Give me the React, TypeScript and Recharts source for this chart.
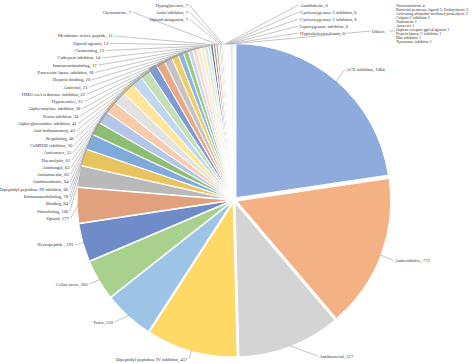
import React from "react";
import { PieChart, Pie, Cell } from "recharts";

// clockwise from 12 o'clock
const categories = [
  "ACE inhibitor",
  "Antioxidative",
  "Antibacterial",
  "Dipeptidyl peptidase IV inhibitor",
  "Toxic",
  "Celiac toxic",
  "Neuropeptide ",
  "Opioid",
  "Stimulating",
  "Binding",
  "Immunomodulating",
  "Dipeptidyl peptidase III inhibitor",
  "Antithrombotic",
  "Antiamnestic",
  "Antifungal",
  "Haemolytic",
  "Anticancer",
  "CaMPDE inhibitor",
  "Regulating",
  "Anti-inflammatory",
  "Alpha-glucosidase inhibitor",
  "Renin inhibitor",
  "Alpha-amylase inhibitor",
  "Hypotensive",
  "HMG-coA reductase inhibitor",
  "Antiviral",
  "Heparin binding",
  "Pancreatic lipase inhibitor",
  "Immunostimulating",
  "Cathepsin inhibitor",
  "Contracting",
  "Opioid agonist",
  "Membrane-active peptide",
  "Chemotactic",
  "Opioid antagonist",
  "Actin inhibitor",
  "Hypoglycemic",
  "Antidiabetic",
  "Cyclooxygenase-2 inhibitor",
  "Cyclooxygenase-1 inhibitor",
  "Lipoxygenase inhibitor",
  "Hypocholesterolemic",
];

const values = [
  1084, 772, 517, 457, 250, 203, 191, 177, 106, 84, 78, 66, 64, 63, 63, 61, 55,
  50, 46, 43, 41, 34, 28, 25, 22, 21, 20, 18, 17, 14, 13, 13, 11, 7, 7, 7, 7, 6,
  6, 6, 6, 5,
];

const othersLines = [
  "Vasoconstrictor 4",
  "Bacterial permease ligand 3; Embryotoxic 3",
  "Activating ubiquitin-mediated proteolysis 3",
  "Calpain 2 inhibitor 2",
  "Natriuretic 1",
  "Anorexic 1",
  "Orphan receptor gpr54 agonist 1",
  "Protein kinase C inhibitor 1",
  "Rho inhibitor 1",
  "Tyrosinase inhibitor 1",
];
const othersValues = [4, 3, 3, 3, 2, 1, 1, 1, 1, 1, 1];

const sliceNames = [...categories, "Others"];
const sliceValues = [...values, othersValues.reduce((a, b) => a + b, 0)];
const data = sliceNames.map((name, i) => ({ name, value: sliceValues[i] }));

const palette = [
  ["#8FAADC", "#F4B183", "#D4D4D4", "#FFD966", "#9DC3E6", "#A9D18E"],
  ["#6F8CC9", "#E0A17C", "#B9B9B9", "#E8C45E", "#7FAADB", "#8FBE72"],
  ["#B4C7E7", "#F8CBAD", "#E2E2E2", "#FFE699", "#C0D8EF", "#C5E0B4"],
  ["#7F9AD2", "#E8A985", "#C3C3C3", "#F0CC63", "#8DB6E0", "#9CC980"],
  ["#C9D6EE", "#FAD8C2", "#EBEBEB", "#FFEDB3", "#D2E4F4", "#D5E8C7"],
  ["#5F7EC0", "#D99470", "#ABABAB", "#DDB84F", "#6FA0D4", "#80B363"],
  ["#DAE3F3", "#FBE5D6", "#F2F2F2", "#FFF2CC", "#DEEBF7", "#E2F0D9"],
  ["#E8EEF8", "#FCEFE6", "#F7F7F7", "#FFF7DE", "#EBF3FB", "#EEF6E8"],
];
const colorAt = (i: number) => palette[Math.floor(i / 6) % palette.length][i % 6];

const W = 474;
const H = 363;
const CX = 234;
const CY = 200;
const R = 154;
const EXPLODE = 3;
const FONT = '"Liberation Serif", "Times New Roman", serif';
const LINE = "#9E9E9E";

// mid angle of each slice, radians clockwise from top
const total = sliceValues.reduce((a, b) => a + b, 0);
const mids: number[] = [];
{
  let acc = 0;
  sliceValues.forEach((v) => {
    mids.push(((acc + v / 2) / total) * 2 * Math.PI);
    acc += v;
  });
}
const polar = (r: number, t: number) => [CX + r * Math.sin(t), CY - r * Math.cos(t)];

type Spot = { x: number; y: number; anchor: "start" | "end" };
const spots: Spot[] = [];

// big slices: radial
[0, 1, 2, 3].forEach((i) => {
  const [px, py] = polar(172, mids[i]);
  const right = Math.sin(mids[i]) > 0;
  let x = px;
  let y = py;
  if (i === 2) {
    x += 24;
    y = Math.min(y, 356);
  }
  if (i === 3) y = Math.min(y, 359);
  spots[i] = { x, y, anchor: right ? "start" : "end" };
});

// left column, stacked top-down
{
  let prev = 0;
  for (let i = 33; i >= 4; i--) {
    const nat = polar(165, mids[i])[1];
    const y = i === 33 ? 12 : Math.max(nat, prev + 7.3);
    prev = y;
    const dy = y - CY;
    const ry = dy < 0 ? 240 : 178;
    const x = CX - 166 * Math.sqrt(Math.max(0, 1 - (dy / ry) ** 2));
    spots[i] = { x, y, anchor: "end" };
  }
}
// top group
for (let i = 34; i <= 36; i++) spots[i] = { x: 188, y: 5 + (36 - i) * 7, anchor: "end" };
// right-top group
for (let i = 37; i <= 41; i++) spots[i] = { x: 300, y: 5 + (i - 37) * 7, anchor: "start" };
// others
spots[42] = { x: 372, y: 31, anchor: "start" };

const renderLabel = (props: any) => {
  const i = props.index;
  const s = spots[i];
  if (!s) return null;
  const [ex, ey] = polar(R + EXPLODE - 1, mids[i]);
  const lx = s.anchor === "end" ? s.x + 1.5 : s.x - 1.5;
  const textStyle = { fontFamily: FONT, fontSize: 4.7, fill: "#333333" };
  if (i === 42) {
    return (
      <g>
        <line x1={ex} y1={ey} x2={lx} y2={s.y} stroke={LINE} strokeWidth={0.6} />
        <text x={s.x} y={s.y} fill="#333333" dominantBaseline="central" style={textStyle}>
          Others
        </text>
        <line x1={s.x + 17} y1={s.y} x2={s.x + 23} y2={s.y} stroke={LINE} strokeWidth={0.6} />
        {othersLines.map((t, k) => (
          <text
            key={k}
            x={396}
            y={5 + k * 4.1}
            fill="#333333"
            dominantBaseline="central"
            style={{ ...textStyle, fontSize: 4.1 }}
          >
            {t}
          </text>
        ))}
      </g>
    );
  }
  return (
    <g>
      <line x1={ex} y1={ey} x2={lx} y2={s.y} stroke={LINE} strokeWidth={0.6} />
      <text
        x={s.x}
        y={s.y}
        fill="#333333"
        textAnchor={s.anchor}
        dominantBaseline="central"
        style={textStyle}
      >
        {`${props.name}, ${props.value}`}
      </text>
    </g>
  );
};

export default function App() {
  return (
    <div style={{ position: "absolute", left: 0, top: 0, width: W, height: H, background: "#fff" }}>
      <PieChart width={W} height={H} margin={{ top: 0, right: 0, bottom: 0, left: 0 }}>
        <Pie
          data={data}
          dataKey="value"
          nameKey="name"
          cx={CX}
          cy={CY}
          outerRadius={R}
          startAngle={90}
          endAngle={-270}
          stroke="#fff"
          strokeWidth={1}
          label={renderLabel}
          labelLine={false}
          isAnimationActive={false}
        >
          {data.map((d, i) => (
            <Cell
              key={d.name}
              fill={colorAt(i)}
              transform={`translate(${EXPLODE * Math.sin(mids[i])}, ${-EXPLODE * Math.cos(mids[i])})`}
            />
          ))}
        </Pie>
      </PieChart>
    </div>
  );
}
